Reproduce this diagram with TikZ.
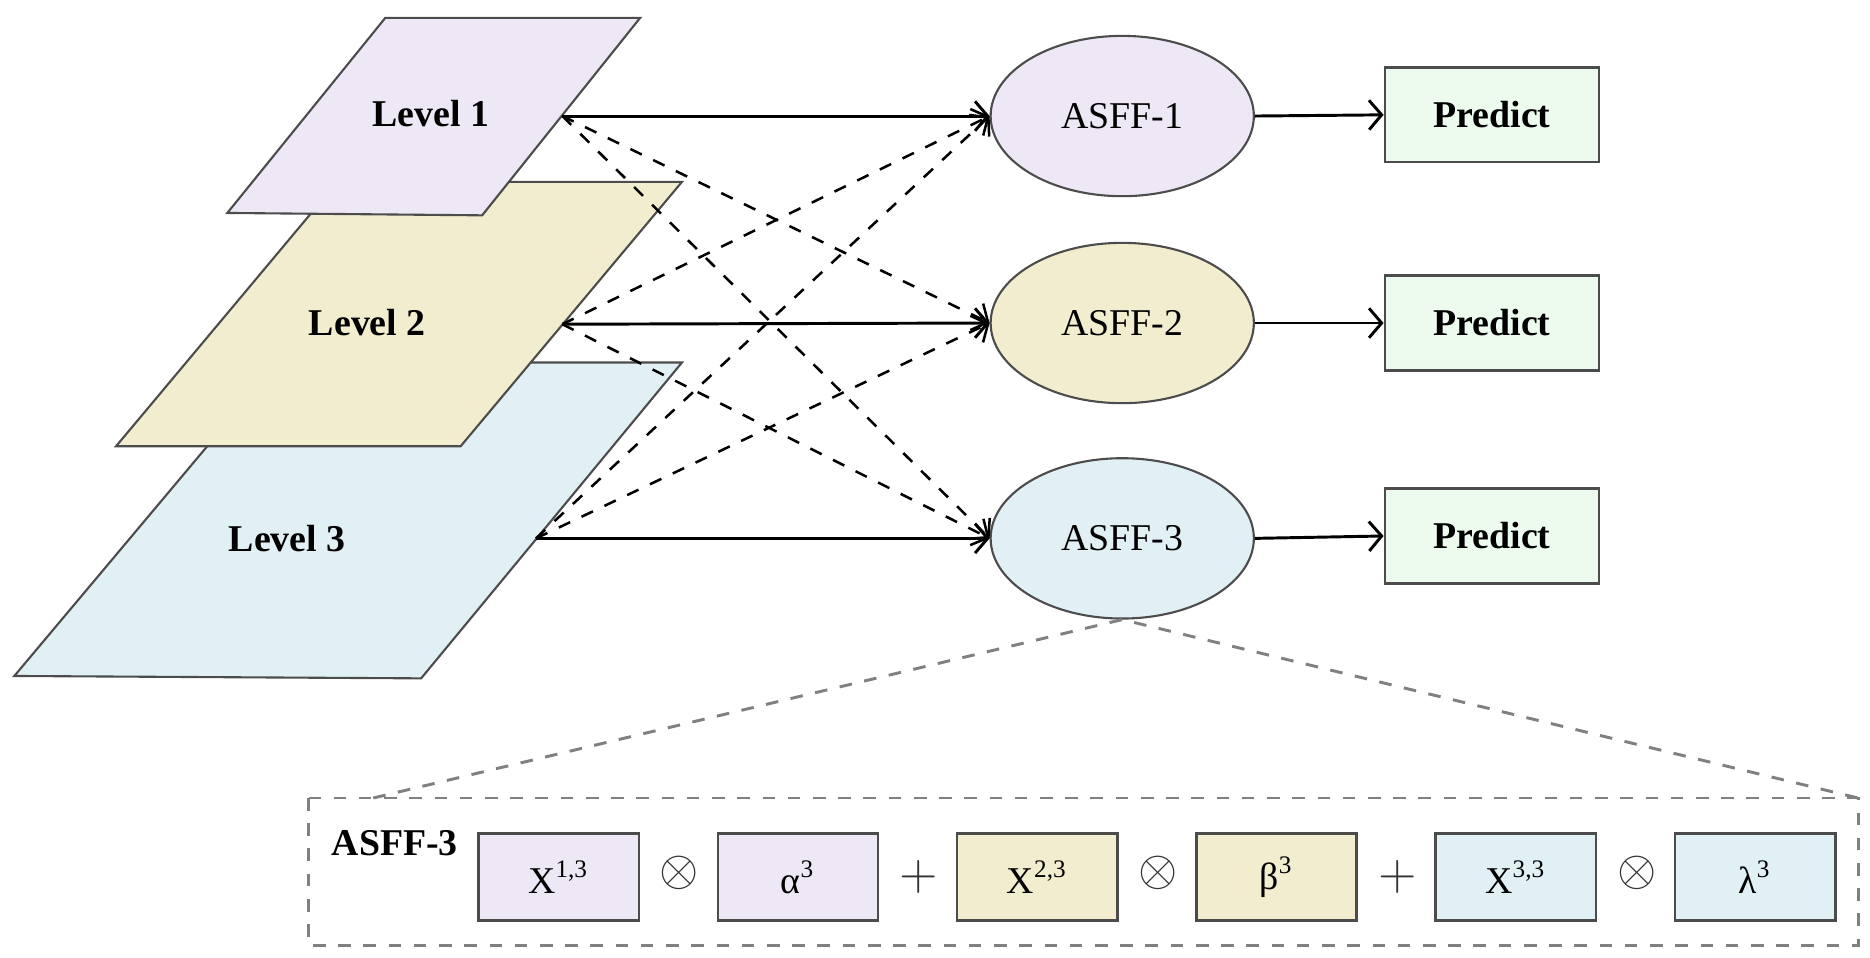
\documentclass[tikz,border=0pt]{standalone}
\usepackage{fontspec}
\setmainfont{Liberation Serif}
\usetikzlibrary{shapes.geometric,arrows.meta}
\begin{document}
\begin{tikzpicture}[x=0.1mm,y=-0.1mm,
  lvl/.style={draw=black!70,line width=0.5pt},
  ell/.style={ellipse,draw=black!70,line width=0.5pt,minimum width=22mm,minimum height=13.4mm,font=\fontsize{9}{11}\selectfont},
  pred/.style={draw=black!70,line width=0.6pt,fill=mint,minimum width=17.9mm,minimum height=7.9mm,font=\bfseries\fontsize{9}{11}\selectfont},
  sb/.style={draw=black!70,line width=0.6pt,minimum width=13.4mm,minimum height=7.3mm,font=\fontsize{9}{11}\selectfont},
  op/.style={font=\fontsize{12}{14}\selectfont,text=black!80},
  arr/.style={-{Straight Barb[length=3pt,width=7pt]},line width=0.7pt},
  darr/.style={arr,dashed,line width=0.6pt},
  lt/.style={font=\bfseries\fontsize{9}{11}\selectfont}]
\definecolor{lav}{HTML}{EEE8F6}\definecolor{bei}{HTML}{F3EDCF}
\definecolor{lbl}{HTML}{E1F0F5}\definecolor{mint}{HTML}{EDFBEF}
\useasboundingbox (0,0) rectangle (1563,800);
\draw[lvl,fill=lbl] (232,303)--(570,303)--(352,567)--(12,565)--cycle;
\draw[lvl,fill=bei] (282,152)--(570,152)--(385,373)--(97,373)--cycle;
\draw[lvl,fill=lav] (322,15)--(535,15)--(403,180)--(190,178)--cycle;
\node[lt] (l1) at (360,95) {Level 1};
\node[lt] (l2) at (307,270) {Level 2};
\node[lt] (l3) at (240,450) {Level 3};
\coordinate (s1) at (470,97);
\coordinate (s2) at (470,271);
\coordinate (s3) at (448,450);
\node[ell,fill=lav] (a1) at (938,97) {ASFF-1};
\node[ell,fill=bei] (a2) at (938,270) {ASFF-2};
\node[ell,fill=lbl] (a3) at (938,450) {ASFF-3};
\node[pred] (p1) at (1247,96) {Predict};
\node[pred] (p2) at (1247,270) {Predict};
\node[pred] (p3) at (1247,448) {Predict};
\draw[arr] (s1)--(a1.west);
\draw[arr] (s2)--(a2.west);
\draw[arr] (s3)--(a3.west);
\draw[darr] (s1)--(a2.west); \draw[darr] (s1)--(a3.west);
\draw[darr] (s2)--(a1.west); \draw[darr] (s2)--(a3.west);
\draw[darr] (s3)--(a1.west); \draw[darr] (s3)--(a2.west);
\draw[arr] (a1.east)--(p1.west);
\draw[arr] (a2.east)--(p2.west);
\draw[arr] (a3.east)--(p3.west);
\coordinate (bl) at (258,667); \coordinate (br) at (1553,790);
\draw[dashed,gray,line width=0.7pt] (bl) rectangle (br);
\draw[dashed,gray,line width=0.7pt] (312,667)--(a3.south)--(1553,667);
\node[font=\bfseries\fontsize{9}{11}\selectfont] (t) at (330,705) {ASFF-3};
\node[sb,fill=lav] (b1) at (467,733) {X\textsuperscript{1,3}};
\node[op] (o1) at (568,730) {$\otimes$};
\node[sb,fill=lav] (b2) at (667,733) {α\textsuperscript{3}};
\node[op] (o2) at (768,733) {$+$};
\node[sb,fill=bei] (b3) at (867,733) {X\textsuperscript{2,3}};
\node[op] (o3) at (968,730) {$\otimes$};
\node[sb,fill=bei] (b4) at (1067,733) {β\textsuperscript{3}};
\node[op] (o4) at (1168,733) {$+$};
\node[sb,fill=lbl] (b5) at (1267,733) {X\textsuperscript{3,3}};
\node[op] (o5) at (1368,730) {$\otimes$};
\node[sb,fill=lbl] (b6) at (1467,733) {λ\textsuperscript{3}};
\end{tikzpicture}
\end{document}
